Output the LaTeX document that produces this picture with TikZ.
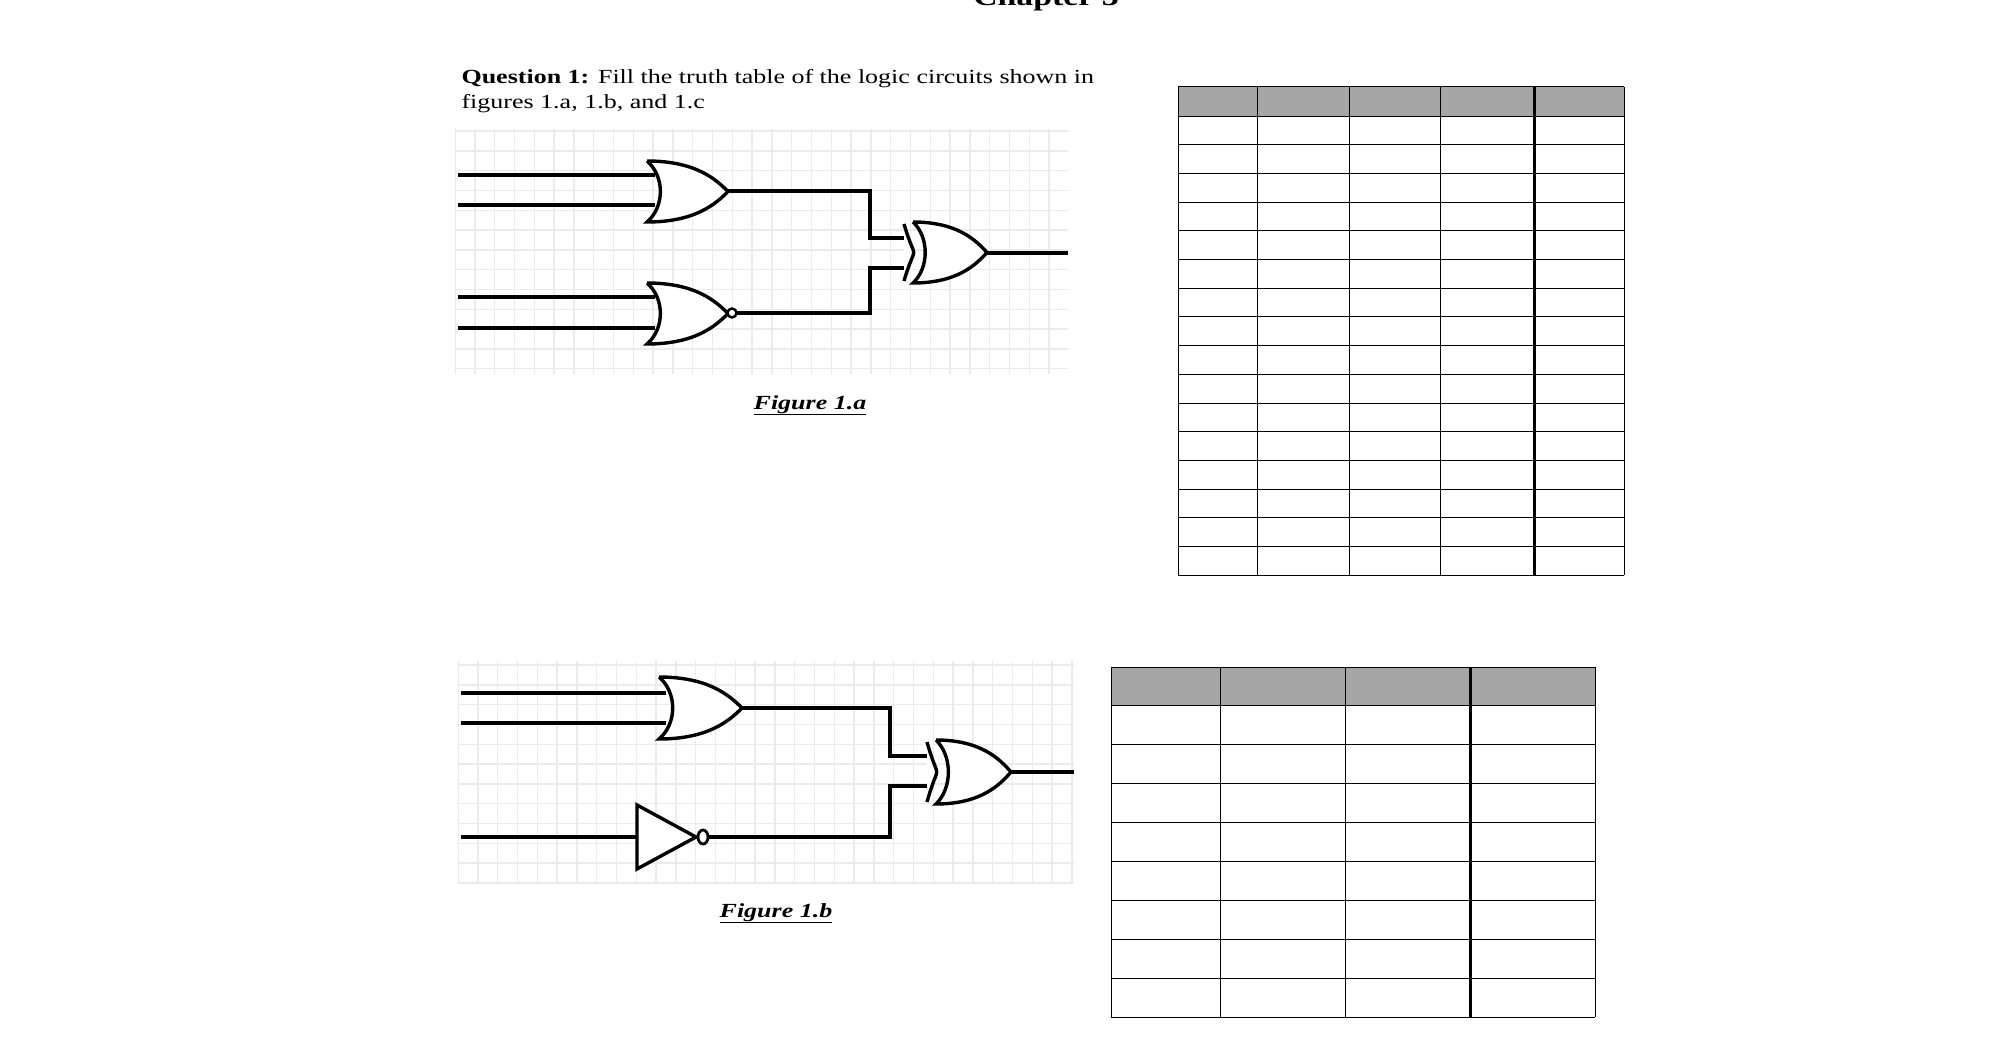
\documentclass[tikz,border=0pt]{standalone}
\usepackage{fontspec}
\setmainfont{Liberation Serif}[FakeStretch=1.3]
\newcommand\myOR[4]{% xb, ytop, ybot, xtip
 \pgfmathsetmacro\ym{(#2+#3)/2}\pgfmathsetmacro\w{#4-#1}
 \draw[gate] (#1,#2) .. controls ({#1+0.6*\w},#2) and ({#1+0.85*\w},{\ym+0.2*(#2-#3)}) .. (#4,\ym)
   .. controls ({#1+0.85*\w},{\ym-0.2*(#2-#3)}) and ({#1+0.6*\w},#3) .. (#1,#3)
   .. controls ({#1+0.22*\w},{\ym-0.25*(#2-#3)}) and ({#1+0.22*\w},{\ym+0.25*(#2-#3)}) .. (#1,#2);}
\newcommand\myXB[3]{% xb, ytop, ybot (extra back curve)
 \pgfmathsetmacro\ym{(#2+#3)/2}
 \draw[gate] ({#1-9},{#2+2}) .. controls ({#1+4},{\ym-0.25*(#2-#3)}) and ({#1+4},{\ym+0.25*(#2-#3)}) .. ({#1-9},{#3-2});}
\begin{document}
\begin{tikzpicture}[x=1pt,y=-1pt,
 gate/.style={line width=3.4pt,fill=white},
 wire/.style={line width=3.8pt},
 cell/.style={line width=1pt},
 gridl/.style={draw=black!8,line width=1.4pt}]
\useasboundingbox (0,0) rectangle (1990,1049);
\node[font=\bfseries\fontsize{26}{28}\selectfont,anchor=base] (title) at (1046,6) {Chapter 3};
\node[anchor=base west,font=\fontsize{20}{25}\selectfont] (q1) at (458,84) {\textbf{Question 1:} Fill the truth table of the logic circuits shown in};
\node[anchor=base west,font=\fontsize{20}{25}\selectfont] (q2) at (458,109) {figures 1.a, 1.b, and 1.c};
% grid 1
\begin{scope}
\clip (455,129) rectangle (1068,374);
\foreach \i in {0,...,31} \draw[gridl] ({455+19.8*\i},129) -- ({455+19.8*\i},374);
\foreach \j in {0,...,12} \draw[gridl] (455,{131+19.8*\j}) -- (1068,{131+19.8*\j});
\end{scope}
% circuit 1
\draw[wire] (458,175) -- (655,175) (458,205) -- (655,205) (458,297) -- (655,297) (458,328) -- (655,328);
\draw[wire] (728,191) -- (870,191) -- (870,238) -- (907,238);
\draw[wire] (736,313) -- (870,313) -- (870,268) -- (907,268);
\draw[wire] (987,253) -- (1068,253);
\myOR{647}{161}{222}{728}
\myOR{647}{283}{344}{728}
\draw[line width=2.4pt,fill=white] (732,313) circle (4.5);
\myOR{913}{222}{283}{987}
\myXB{913}{222}{283}
\node[font=\bfseries\itshape\fontsize{20}{22}\selectfont,anchor=base] (fa) at (810,409) {\underline{Figure 1.a}};
% table 1
\begin{scope}[xshift=-6pt]
\fill[black!35] (1184,87) rectangle (1630,116);
\foreach \x in {1184,1263,1355,1446,1630} \draw[cell] (\x,87) -- (\x,575);
\draw[line width=3pt] (1540,87) -- (1540,575);
\draw[cell] (1184,87) -- (1630,87);
\foreach \j in {0,...,16} \draw[cell] (1184,{116+28.7*\j}) -- (1630,{116+28.7*\j});
\end{scope}
% grid 2
\begin{scope}
\clip (458,661) rectangle (1074,883);
\foreach \i in {0,...,31} \draw[gridl] ({458+19.8*\i},661) -- ({458+19.8*\i},883);
\foreach \j in {0,...,11} \draw[gridl] (458,{665+19.8*\j}) -- (1074,{665+19.8*\j});
\end{scope}
% circuit 2
\draw[wire] (461,693) -- (666,693) (461,723) -- (666,723);
\draw[wire] (742,708) -- (890,708) -- (890,756) -- (931,756);
\draw[wire] (461,837) -- (636,837);
\draw[wire] (708,837) -- (890,837) -- (890,786) -- (931,786);
\draw[wire] (1011,772) -- (1074,772);
\myOR{659}{677}{739}{742}
\myOR{936}{740}{804}{1011}
\myXB{936}{740}{804}
\draw[gate] (637,805) -- (696,837) -- (637,869) -- cycle;
\draw[line width=2.8pt,fill=white] (703,837) ellipse (5 and 7);
\node[font=\bfseries\itshape\fontsize{20}{22}\selectfont,anchor=base] (fb) at (776,917) {\underline{Figure 1.b}};
% table 2
\begin{scope}[xshift=-5pt]
\fill[black!35] (1116,667) rectangle (1600,705);
\foreach \x in {1116,1225,1350,1600} \draw[cell] (\x,667) -- (\x,1017);
\draw[line width=3pt] (1475,667) -- (1475,1017);
\draw[cell] (1116,667) -- (1600,667);
\foreach \j in {0,...,8} \draw[cell] (1116,{705+39*\j}) -- (1600,{705+39*\j});
\end{scope}
\end{tikzpicture}
\end{document}
